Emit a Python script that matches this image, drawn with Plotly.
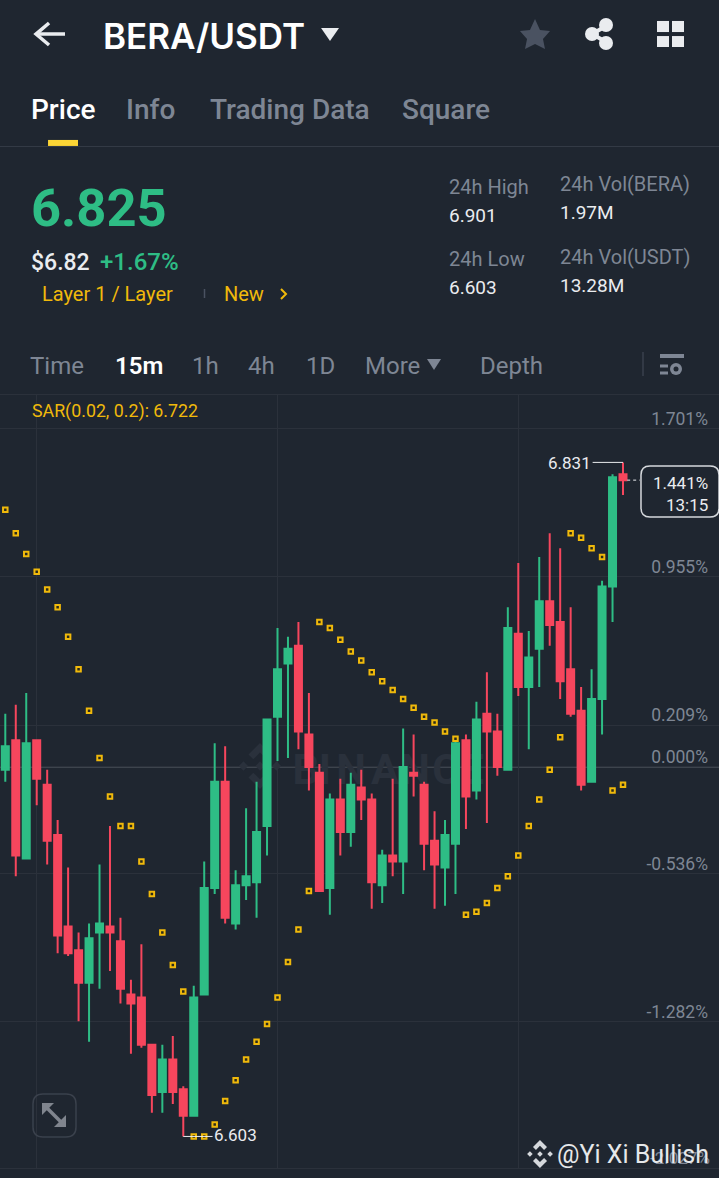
import plotly.graph_objects as go

W, H = 719, 1178
BG = "#1f2630"
GREEN = "#2ebd85"
RED = "#f6465d"
YELLOW = "#f0b90b"
GREY = "#7e8694"
LIGHT = "#eaecef"
GRID = "#2b313b"
WATERMARK = "#2a313c"
FONT = "Roboto"

# 15m candles
opens = [6.727, 6.737, 6.697, 6.737, 6.722, 6.705, 6.674, 6.666, 6.655, 6.672,
         6.674, 6.669, 6.651, 6.650, 6.634, 6.618, 6.629, 6.619, 6.610, 6.651,
         6.687, 6.723, 6.675, 6.688, 6.689, 6.708, 6.745, 6.763, 6.769, 6.739,
         6.726, 6.687, 6.717, 6.706, 6.721, 6.717, 6.688, 6.698, 6.696, 6.726,
         6.722, 6.703, 6.694, 6.702, 6.737, 6.720, 6.746, 6.740, 6.727, 6.773,
         6.755, 6.768, 6.784, 6.777, 6.761, 6.747, 6.723, 6.751, 6.789, 6.827]
highs = [6.746, 6.749, 6.753, 6.737, 6.727, 6.710, 6.694, 6.672, 6.675, 6.695,
         6.708, 6.677, 6.656, 6.668, 6.634, 6.634, 6.637, 6.620, 6.654, 6.696,
         6.736, 6.735, 6.693, 6.714, 6.723, 6.744, 6.775, 6.772, 6.777, 6.753,
         6.729, 6.719, 6.724, 6.726, 6.727, 6.719, 6.700, 6.724, 6.741, 6.739,
         6.723, 6.713, 6.710, 6.737, 6.739, 6.750, 6.760, 6.746, 6.782, 6.797,
         6.774, 6.799, 6.807, 6.802, 6.782, 6.755, 6.761, 6.791, 6.827, 6.831]
lows = [6.723, 6.691, 6.697, 6.715, 6.695, 6.665, 6.664, 6.642, 6.635, 6.653,
        6.659, 6.648, 6.631, 6.633, 6.611, 6.611, 6.614, 6.603, 6.610, 6.651,
        6.685, 6.675, 6.673, 6.683, 6.677, 6.698, 6.730, 6.731, 6.734, 6.720,
        6.686, 6.678, 6.698, 6.701, 6.710, 6.680, 6.682, 6.691, 6.685, 6.718,
        6.693, 6.680, 6.681, 6.685, 6.707, 6.717, 6.709, 6.725, 6.727, 6.752,
        6.734, 6.755, 6.769, 6.751, 6.745, 6.720, 6.723, 6.739, 6.777, 6.820]
closes = [6.735, 6.698, 6.736, 6.724, 6.703, 6.671, 6.665, 6.655, 6.670, 6.675,
          6.672, 6.653, 6.648, 6.634, 6.617, 6.629, 6.618, 6.610, 6.650, 6.687,
          6.723, 6.677, 6.688, 6.691, 6.706, 6.744, 6.761, 6.768, 6.740, 6.728,
          6.686, 6.717, 6.706, 6.722, 6.717, 6.689, 6.698, 6.696, 6.728, 6.725,
          6.702, 6.695, 6.705, 6.736, 6.718, 6.744, 6.740, 6.728, 6.775, 6.755,
          6.765, 6.784, 6.776, 6.757, 6.746, 6.722, 6.751, 6.789, 6.826, 6.825]
sar = [6.815, 6.807, 6.800, 6.794, 6.788, 6.782, 6.772, 6.761, 6.747, 6.731,
       6.718, 6.708, 6.708, 6.696, 6.685, 6.672, 6.661, 6.652, 6.603, 6.603,
       6.607, 6.615, 6.622, 6.629, 6.635, 6.641, 6.650, 6.662, 6.673, 6.686,
       6.777, 6.775, 6.771, 6.767, 6.764, 6.760, 6.757, 6.754, 6.751, 6.748,
       6.745, 6.743, 6.740, 6.7375, 6.678, 6.679, 6.682, 6.687, 6.691, 6.698,
       6.708, 6.717, 6.727, 6.738, 6.807, 6.8055, 6.802, 6.799, 6.720, 6.722]
candle_idx = list(range(len(opens)))

BASE_PRICE = 6.728
pct_ticks = [1.701, 0.955, 0.209, 0.0, -0.536, -1.282]
tick_prices = [BASE_PRICE * (1 + p / 100) for p in pct_ticks]
tick_text = ["%.3f%%" % p for p in pct_ticks]
time_grid = [3, 26, 49]

# price window of the chart pane
Y_TOP, Y_BOT = 6.8538, 6.5923
PANE_TOP = 395
PX_PER_PRICE = 2956.3
pane_bottom = PANE_TOP + (Y_TOP - Y_BOT) * PX_PER_PRICE


def px(x):
    return x / W


def py(y):
    return 1 - y / H


annots = []
shapes = []


def txt(x, y, text, size, color=LIGHT, anchor="left", weight=400, family=FONT):
    # annotations keep a 1px border box around the text
    nudge = {"left": -1, "right": 1}[anchor]
    annots.append(dict(x=px(x + nudge), y=py(y), xref="paper", yref="paper", text=text, showarrow=False,
                       xanchor=anchor, yanchor="middle", borderpad=0,
                       font=dict(family=family, size=size, color=color, weight=weight)))


def line(x0, y0, x1, y1, color, width=1, layer="above", dash=None):
    shapes.append(dict(type="line", xref="paper", yref="paper", x0=px(x0), y0=py(y0), x1=px(x1), y1=py(y1),
                       layer=layer, line=dict(color=color, width=width, dash=dash)))


def poly(points, color, layer="above", close=True, lw=0, fill=True):
    d = "M" + " L".join("%.4f,%.4f" % (px(a), py(b)) for a, b in points) + (" Z" if close else "")
    shapes.append(dict(type="path", xref="paper", yref="paper", path=d, layer=layer,
                       fillcolor=color if fill else "rgba(0,0,0,0)",
                       line=dict(color=color, width=lw)))


def circle(cx, cy, r, color):
    shapes.append(dict(type="circle", xref="paper", yref="paper", x0=px(cx - r), x1=px(cx + r),
                       y0=py(cy - r), y1=py(cy + r), fillcolor=color, line=dict(width=0)))


def rounded(x0, y0, x1, y1, r, edge, fill, layer="above"):
    d = ("M%.4f,%.4f L%.4f,%.4f Q%.4f,%.4f %.4f,%.4f L%.4f,%.4f Q%.4f,%.4f %.4f,%.4f "
         "L%.4f,%.4f Q%.4f,%.4f %.4f,%.4f L%.4f,%.4f Q%.4f,%.4f %.4f,%.4f Z") % (
        px(x0 + r), py(y0), px(x1 - r), py(y0), px(x1), py(y0), px(x1), py(y0 + r),
        px(x1), py(y1 - r), px(x1), py(y1), px(x1 - r), py(y1),
        px(x0 + r), py(y1), px(x0), py(y1), px(x0), py(y1 - r),
        px(x0), py(y0 + r), px(x0), py(y0), px(x0 + r), py(y0))
    shapes.append(dict(type="path", xref="paper", yref="paper", path=d, layer=layer, fillcolor=fill,
                       line=dict(color=edge, width=1.5)))


def diamond(cx, cy, r, color, layer="above"):
    poly([(cx, cy - r), (cx + r, cy), (cx, cy + r), (cx - r, cy)], color, layer)


def binance_logo(cx, cy, s, color, layer="above"):
    diamond(cx, cy, s * 0.2, color, layer)
    diamond(cx - s * 0.72, cy, s * 0.2, color, layer)
    diamond(cx + s * 0.72, cy, s * 0.2, color, layer)
    poly([(cx, cy - s), (cx + s * 0.5, cy - s * 0.5), (cx + s * 0.29, cy - s * 0.29), (cx, cy - s * 0.58),
          (cx - s * 0.29, cy - s * 0.29), (cx - s * 0.5, cy - s * 0.5)], color, layer)
    poly([(cx, cy + s), (cx + s * 0.5, cy + s * 0.5), (cx + s * 0.29, cy + s * 0.29), (cx, cy + s * 0.58),
          (cx - s * 0.29, cy + s * 0.29), (cx - s * 0.5, cy + s * 0.5)], color, layer)


# header
poly([(49, 23), (36, 34), (49, 45)], LIGHT, close=False, lw=3.5, fill=False)
line(37, 34, 65, 34, LIGHT, 3.5)
txt(103, 36, "BERA/USDT", 35, "#ffffff", weight=600, family="Inter")
poly([(321, 28), (339, 28), (330, 41)], LIGHT)
poly([(535, 19), (540, 30), (550, 31), (543, 39), (545, 49), (535, 44), (525, 49), (527, 39), (520, 31), (530, 30)], "#4a5261")
line(608, 25, 592, 34, LIGHT, 4)
line(592, 34, 608, 43, LIGHT, 4)
circle(606, 25, 7, LIGHT)
circle(592, 34, 7, LIGHT)
circle(606, 43, 7, LIGHT)
for x0 in (657, 672):
    for y0 in (21, 36):
        poly([(x0, y0), (x0 + 12, y0), (x0 + 12, y0 + 11), (x0, y0 + 11)], LIGHT)

txt(31, 110, "Price", 28, "#ffffff", weight=500)
txt(126, 110, "Info", 28, GREY, weight=500)
txt(210, 110, "Trading Data", 28, GREY, weight=500)
txt(402, 110, "Square", 28, GREY, weight=500)
poly([(48, 140), (78, 140), (78, 146), (48, 146)], "#fcd535")
line(0, 146.5, W, 146.5, "#333a45", 1)

# price block
txt(31, 208, "6.825", 52.5, GREEN, weight=700)
txt(31, 262, "$6.82", 23, LIGHT, weight=500)
txt(100, 262, "+1.67%", 24, GREEN, weight=500)
txt(42, 294, "Layer 1 / Layer", 20, YELLOW)
line(204.5, 289, 204.5, 298, "#4a5261", 1.5)
txt(224, 294, "New", 20, YELLOW)
poly([(281, 289), (286, 294), (281, 299)], YELLOW, close=False, lw=2, fill=False)

txt(449, 187, "24h High", 20, GREY)
txt(449, 215, "6.901", 19, LIGHT)
txt(449, 259, "24h Low", 20, GREY)
txt(449, 287, "6.603", 19, LIGHT)
txt(560, 184, "24h Vol(BERA)", 20, GREY)
txt(560, 213, "1.97M", 19, LIGHT)
txt(560, 257, "24h Vol(USDT)", 20, GREY)
txt(560, 285, "13.28M", 19, LIGHT)

# interval row
txt(30, 366, "Time", 24, GREY)
txt(115, 366, "15m", 24, "#ffffff", weight=600)
txt(192, 366, "1h", 24, GREY)
txt(248, 366, "4h", 24, GREY)
txt(306, 366, "1D", 24, GREY)
txt(365, 366, "More", 24, GREY)
poly([(427, 359), (441, 359), (434, 370)], GREY)
txt(480, 366, "Depth", 24, GREY)
line(643, 352, 643, 376, "#3a414c", 1.5)
line(660, 356, 684, 356, GREY, 4)
line(660, 366, 668, 366, GREY, 3)
line(660, 373, 668, 373, GREY, 3)
circle(676, 369, 6, GREY)
circle(676, 369, 2.5, BG)

txt(32, 411, "SAR(0.02, 0.2): 6.722", 17.8, YELLOW)

# chart labels
txt(548, 463, "6.831", 17, LIGHT)
txt(214, 1135, "6.603", 17, LIGHT)
shapes.append(dict(type="line", xref="x", yref="y", x0=56.1, x1=59, y0=highs[59], y1=highs[59],
                   line=dict(color=LIGHT, width=1)))
shapes.append(dict(type="line", xref="x", yref="y", x0=17, x1=19.8, y0=lows[17], y1=lows[17],
                   line=dict(color=LIGHT, width=1)))
shapes.append(dict(type="line", xref="x", yref="y", x0=59.4, x1=60.6, y0=closes[59], y1=closes[59],
                   line=dict(color=LIGHT, width=1, dash="3px,3px")))
rounded(641, 466, 719, 517, 9, "#d5d8dc", BG)
txt(708, 483, "1.441%", 17, LIGHT, anchor="right")
txt(708, 505, "13:15", 17, LIGHT, anchor="right")
txt(710, 1158, "-2.027%", 17, GREY, anchor="right")

# zero line, behind the candles
shapes.append(dict(type="line", xref="paper", yref="y", x0=0, x1=1, y0=BASE_PRICE, y1=BASE_PRICE,
                   layer="below", line=dict(color="#6f747c", width=1)))

# watermark sits under the candles, so its letters are shape labels
binance_logo(260, 766, 23, WATERMARK, layer="below")
for letter, lx in zip("BINANCE", [306, 325, 351, 385, 415, 446, 472]):
    shapes.append(dict(type="rect", xref="paper", yref="paper", layer="below",
                       x0=px(lx - 20), x1=px(lx + 20), y0=py(746), y1=py(786),
                       fillcolor="rgba(0,0,0,0)", line=dict(width=0),
                       label=dict(text=letter, textposition="middle center",
                                  font=dict(family=FONT, size=42, color=WATERMARK, weight=700))))

# expand button
rounded(33, 1094, 76, 1137, 10, "#3a414c", "rgba(0,0,0,0)")
line(47, 1108, 61, 1122, "#80858e", 3.5)
poly([(42, 1103), (54, 1103), (42, 1115)], "#80858e")
poly([(66, 1127), (54, 1127), (66, 1115)], "#80858e")

# author stamp
binance_logo(540, 1154, 14, "#d5d8dc")
txt(557, 1154, "@Yi Xi Bullish", 25, "#e6e8ea")

fig = go.Figure()
fig.add_trace(go.Candlestick(
    x=candle_idx, open=opens, high=highs, low=lows, close=closes,
    whiskerwidth=0,
    increasing=dict(line=dict(color=GREEN, width=2), fillcolor=GREEN),
    decreasing=dict(line=dict(color=RED, width=2), fillcolor=RED),
    showlegend=False,
))
fig.add_trace(go.Scatter(
    x=candle_idx, y=sar, mode="markers", showlegend=False,
    marker=dict(symbol="square", size=4.5, color="#2a2a1a", line=dict(color=YELLOW, width=2)),
))

fig.update_layout(
    width=W, height=H,
    margin=dict(l=0, r=0, t=0, b=0),
    paper_bgcolor=BG, plot_bgcolor=BG,
    showlegend=False,
    boxgap=0.33,
    boxgroupgap=0,
    shapes=shapes,
    annotations=annots,
    xaxis=dict(
        domain=[0, 1], range=[-0.506, 68.17],
        tickvals=time_grid, showticklabels=False, ticks="",
        showgrid=True, gridcolor=GRID, gridwidth=1, zeroline=False,
        showline=True, mirror=True, linecolor=GRID, linewidth=1,
        rangeslider=dict(visible=False),
    ),
    yaxis=dict(
        domain=[1 - pane_bottom / H, 1 - PANE_TOP / H], range=[Y_BOT, Y_TOP],
        side="right", tickvals=tick_prices, ticktext=tick_text,
        ticklabelposition="inside", ticklabelshift=-10, ticklabelstandoff=8,
        tickfont=dict(family=FONT, size=17.5, color=GREY),
        ticks="", showgrid=True, gridcolor=GRID, gridwidth=1, zeroline=False,
    ),
)

fig.write_html("out.html", config=dict(displayModeBar=False),
               post_script="document.body.style.margin='0';")
